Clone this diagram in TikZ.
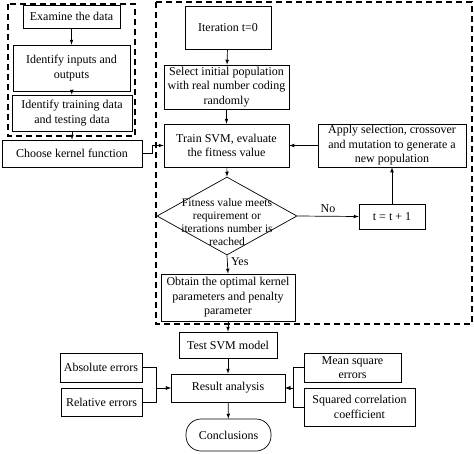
\documentclass[tikz,border=0pt]{standalone}
\usepackage{fontspec}
\setmainfont{Liberation Serif}
\usetikzlibrary{shapes,arrows}

\begin{document}
\begin{tikzpicture}[x=1pt,y=-1pt,
  >=latex,
  box/.style={draw,line width=0.7pt,inner sep=1pt,align=center,font=\fontsize{12}{14.5}\selectfont},
  decision/.style={draw,diamond,line width=0.7pt,inner sep=0pt,minimum width=140pt,minimum height=78pt},
  frame/.style={line width=1.6pt,dash pattern=on 6pt off 4pt},
  flow/.style={->,line width=0.7pt}]
\useasboundingbox (0,0) rectangle (474,453);
% left part
\draw [frame] (8,4) rectangle (135,136);
\node [box,minimum width=97pt,minimum height=23pt] (examine) at (71.5,16.5) {Examine the data};
\node [box,minimum width=117pt,minimum height=46pt] (inputs) at (71.5,68) {Identify inputs and\\outputs};
\node [box,minimum width=120pt,minimum height=36pt] (training) at (72,113) {Identify training data\\and testing data};
\node [box,minimum width=140pt,minimum height=27pt] (kernel) at (72,153.5) {Choose kernel function};
% right part
\draw [frame] (156,2) rectangle (472,324);
\node [box,minimum width=86pt,minimum height=43pt] (iter) at (228,27.5) {Iteration t=0};
\node [box,minimum width=125pt,minimum height=44pt] (select) at (226.5,87) {Select initial population\\with real number coding\\randomly};
\node [box,minimum width=125pt,minimum height=43pt] (train) at (226.5,145.5) {Train SVM, evaluate\\the fitness value};
\node [box,minimum width=148pt,minimum height=43pt] (apply) at (392,145.5) {Apply selection, crossover\\and mutation to generate a\\new population};
\node [decision] (fit) at (227,216) {};
\node [align=center,inner sep=0pt,font=\fontsize{11.5}{13}\selectfont] (fittext) at (227,222) {Fitness value meets\\requirement or\\iterations number is\\reached};
\node [box,minimum width=66pt,minimum height=25pt] (incr) at (392,216.5) {t = t + 1};
\node [box,minimum width=134pt,minimum height=47pt] (obtain) at (228,297.5) {Obtain the optimal kernel\\parameters and penalty\\parameter};
% bottom part
\node [box,minimum width=98pt,minimum height=26pt] (test) at (228,345) {Test SVM model};
\node [box,minimum width=114pt,minimum height=28pt] (result) at (228,388) {Result analysis};
\node [box,minimum width=82pt,minimum height=29pt] (abs) at (101,367.5) {Absolute errors};
\node [box,minimum width=81pt,minimum height=28pt] (rel) at (101.5,402) {Relative errors};
\node [box,minimum width=97pt,minimum height=29pt] (mse) at (352.5,367.5) {Mean square\\errors};
\node [box,minimum width=111pt,minimum height=38pt] (corr) at (359.5,407) {Squared correlation\\coefficient};
\node [box,rounded corners=15pt,minimum width=85pt,minimum height=32pt] (concl) at (228.5,435) {Conclusions};
% connectors
\draw [flow] (examine) -- (inputs);
\draw [flow] (inputs) -- (training);
\draw [flow] (training) -- (kernel);
\draw [flow] (kernel.east) -- ++(10,0) |- (train.west);
\draw [flow] (iter) -- (select);
\draw [flow] (select) -- (train);
\draw [flow] (train) -- (fit.north);
\draw [flow] (fit.east) -- node [above,font=\fontsize{12}{14}\selectfont] {No} (incr.west);
\draw [flow] (incr) -- (apply);
\draw [flow] (apply) -- (train);
\draw [flow] (fit.south) -- node [right,pos=0.35,font=\fontsize{12}{14}\selectfont] {Yes} (obtain.north);
\draw [flow] (obtain) -- (test);
\draw [flow] (test) -- (result);
\draw [flow] (result) -- (concl);
\draw [flow] (abs.east) -- ++(14,0) |- (result.west);
\draw [flow] (rel.east) -- ++(14,0) |- (result.west);
\draw [flow] (mse.west) -- ++(-10,0) |- (result.east);
\draw [flow] (corr.west) -- ++(-10,0) |- (result.east);
\end{tikzpicture}
\end{document}
